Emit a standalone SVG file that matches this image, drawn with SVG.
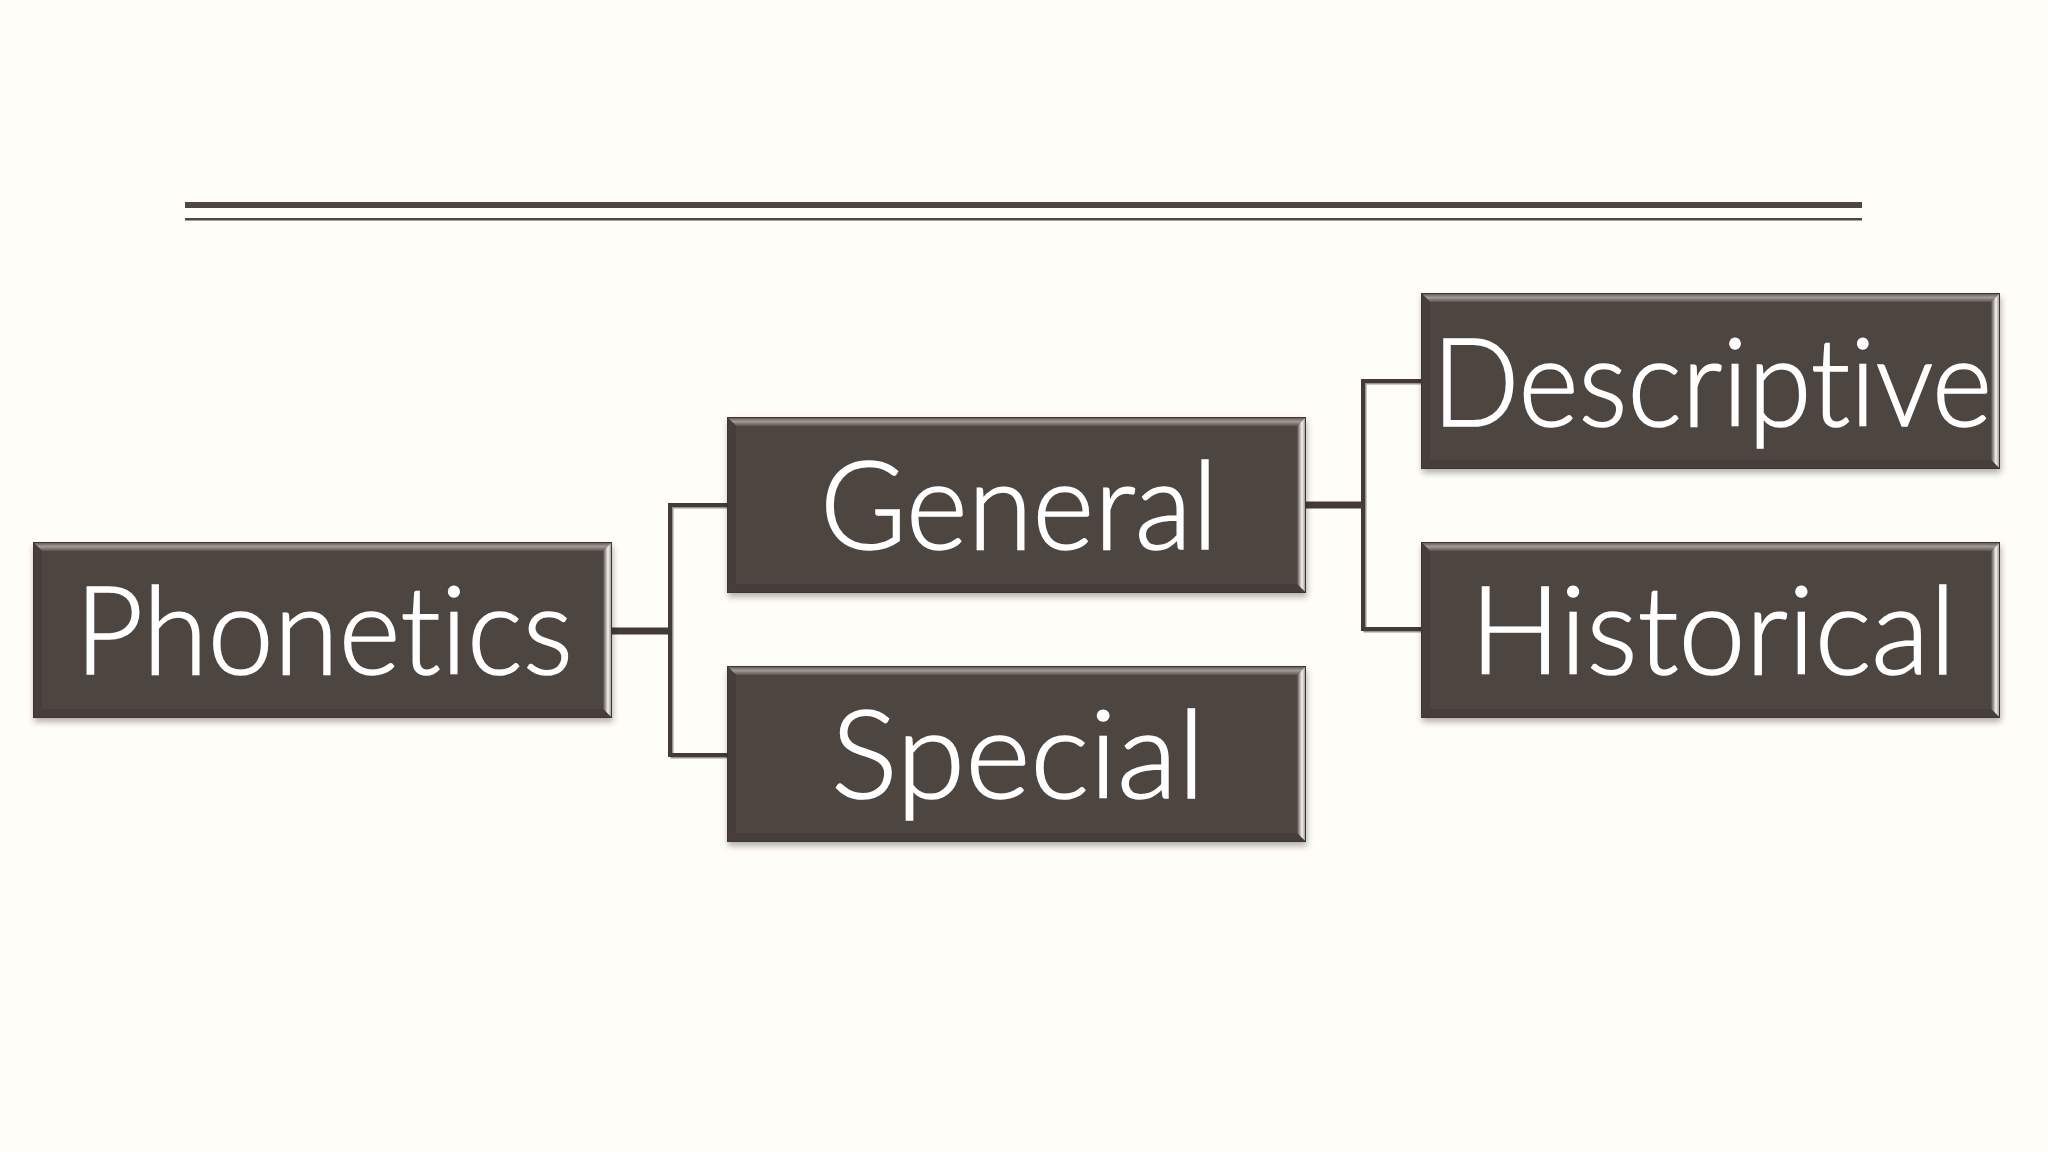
<svg xmlns="http://www.w3.org/2000/svg" xmlns:xlink="http://www.w3.org/1999/xlink" width="2048" height="1152" viewBox="0 0 2048 1152">
<style>
.lbl{font-family:Lato,"Open Sans","Noto Sans",sans-serif;font-weight:300;font-size:123px;fill:#ffffff;stroke:#ffffff;stroke-width:1.6px;text-anchor:middle;font-variant-ligatures:none;font-feature-settings:"liga" 0}
.cdark{fill:none;stroke:#433b37;stroke-width:4}
.clight{fill:none;stroke:#9a938e;stroke-width:3}
</style>
<defs>
<linearGradient id="gTop" x1="0" y1="0" x2="0" y2="9" gradientUnits="userSpaceOnUse">
<stop offset="0" stop-color="#574e49"/><stop offset="0.5" stop-color="#a29a94"/><stop offset="1" stop-color="#5d5450"/>
</linearGradient>
<linearGradient id="gRight" x1="570" y1="0" x2="579" y2="0" gradientUnits="userSpaceOnUse">
<stop offset="0" stop-color="#524944"/><stop offset="0.55" stop-color="#f4f1ee"/><stop offset="1" stop-color="#8d8580"/>
</linearGradient>
<filter id="sh" x="-5%" y="-10%" width="110%" height="125%">
<feDropShadow dx="1" dy="4" stdDeviation="3" flood-color="#000" flood-opacity="0.3"/>
</filter>
<g id="box">
<rect x="0" y="0" width="579" height="176" fill="#4e4541"/>
<polygon points="0,0 579,0 570,9 9,9" fill="url(#gTop)"/>
<polygon points="579,0 579,176 570,167 570,9" fill="url(#gRight)"/>
<polygon points="0,0 9,9 9,167 0,176" fill="#463e3a"/>
<polygon points="0,176 579,176 570,167 9,167" fill="#463e3a"/>
<rect x="0.5" y="0.5" width="578" height="175" fill="none" stroke="#3e3632" stroke-width="1"/>
</g>
</defs>
<rect width="2048" height="1152" fill="#fefdf7"/>
<g id="header">
<rect x="185" y="202" width="1677" height="6" fill="#4f4641"/>
<rect x="185" y="218" width="1677" height="2.5" fill="#4f4641"/>
</g>
<g id="connectors">
<g transform="translate(2,2)">
<path class="clight" d="M727,505 H670 V755 H727"/>
<path class="clight" d="M1422,381 H1363 V629 H1422"/>
</g>
<path class="cdark" d="M727,505 H670 V755 H727"/>
<path class="cdark" d="M1422,381 H1363 V629 H1422"/>
<path d="M612,631 H672" fill="none" stroke="#433b37" stroke-width="7"/>
<path d="M1306,505 H1365" fill="none" stroke="#433b37" stroke-width="7"/>
</g>
<g id="node-phonetics">
<use xlink:href="#box" transform="translate(33,542)" filter="url(#sh)"/>
<text class="lbl" x="324" y="674" textLength="498" lengthAdjust="spacingAndGlyphs">Phonetics</text>
</g>
<g id="node-general">
<use xlink:href="#box" transform="translate(727,417)" filter="url(#sh)"/>
<text class="lbl" x="1019" y="549" textLength="398" lengthAdjust="spacingAndGlyphs">General</text>
</g>
<g id="node-special">
<use xlink:href="#box" transform="translate(727,666)" filter="url(#sh)"/>
<text class="lbl" x="1018" y="798" textLength="374" lengthAdjust="spacingAndGlyphs">Special</text>
</g>
<g id="node-descriptive">
<use xlink:href="#box" transform="translate(1421,293)" filter="url(#sh)"/>
<text class="lbl" x="1712" y="426" textLength="560" lengthAdjust="spacingAndGlyphs">Descriptive</text>
</g>
<g id="node-historical">
<use xlink:href="#box" transform="translate(1421,542)" filter="url(#sh)"/>
<text class="lbl" x="1713" y="674" textLength="486" lengthAdjust="spacingAndGlyphs">Historical</text>
</g>
</svg>
